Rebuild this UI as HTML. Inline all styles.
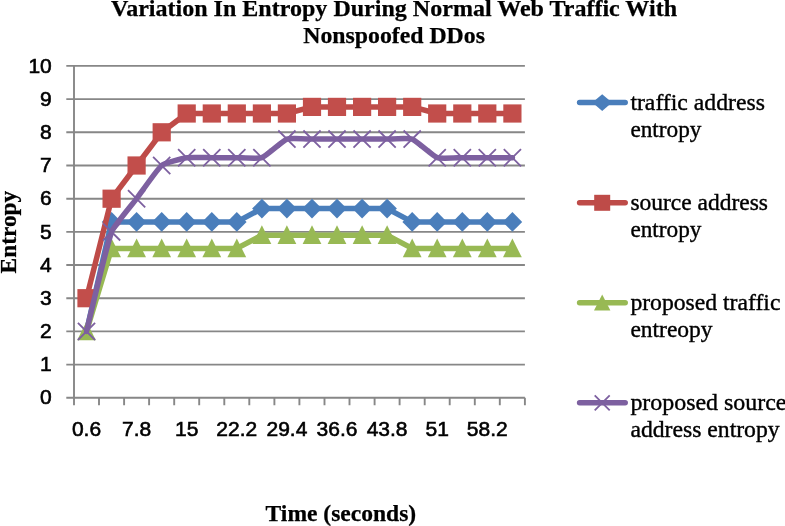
<!DOCTYPE html>
<html lang="en"><head><meta charset="utf-8"><title>Variation In Entropy During Normal Web Traffic With Nonspoofed DDos</title>
<style>html,body{margin:0;padding:0;background:#fff;overflow:hidden}svg{display:block}.t{font-family:"Liberation Serif","DejaVu Serif",serif;font-weight:bold;font-size:23.3px;fill:#000;stroke:#000;stroke-width:.25px}.l{font-family:"Liberation Serif","DejaVu Serif",serif;font-size:24px;fill:#000;stroke:#000;stroke-width:.4px}.a{font-family:"Liberation Sans","DejaVu Sans",sans-serif;font-size:21px;fill:#000;stroke:#000;stroke-width:.6px}</style></head><body>
<svg width="785" height="526" viewBox="0 0 785 526">
<rect width="785" height="526" fill="#fff"/>
<text class="t" x="111" y="16" textLength="566" lengthAdjust="spacingAndGlyphs">Variation In Entropy During Normal Web Traffic With</text>
<text class="t" x="303.3" y="43.0" textLength="181.6" lengthAdjust="spacingAndGlyphs">Nonspoofed DDos</text>
<path d="M66.3 397.8H524.9M66.3 364.6H524.9M66.3 331.4H524.9M66.3 298.2H524.9M66.3 265.0H524.9M66.3 231.9H524.9M66.3 198.7H524.9M66.3 165.5H524.9M66.3 132.3H524.9M66.3 99.1H524.9M66.3 65.9H524.9M74.0 65.9V397.8M74.0 397.8V405.2M99.0 397.8V405.2M124.1 397.8V405.2M149.1 397.8V405.2M174.2 397.8V405.2M199.2 397.8V405.2M224.3 397.8V405.2M249.3 397.8V405.2M274.4 397.8V405.2M299.4 397.8V405.2M324.5 397.8V405.2M349.5 397.8V405.2M374.6 397.8V405.2M399.6 397.8V405.2M424.7 397.8V405.2M449.7 397.8V405.2M474.8 397.8V405.2M499.8 397.8V405.2M524.9 397.8V405.2" stroke="#878787" stroke-width="1.9" fill="none"/>
<text class="a" x="51.8" y="404.4" text-anchor="end">0</text>
<text class="a" x="51.8" y="371.2" text-anchor="end">1</text>
<text class="a" x="51.8" y="338.0" text-anchor="end">2</text>
<text class="a" x="51.8" y="304.8" text-anchor="end">3</text>
<text class="a" x="51.8" y="271.6" text-anchor="end">4</text>
<text class="a" x="51.8" y="238.5" text-anchor="end">5</text>
<text class="a" x="51.8" y="205.3" text-anchor="end">6</text>
<text class="a" x="51.8" y="172.1" text-anchor="end">7</text>
<text class="a" x="51.8" y="138.9" text-anchor="end">8</text>
<text class="a" x="51.8" y="105.7" text-anchor="end">9</text>
<text class="a" x="51.8" y="72.5" text-anchor="end">10</text>
<text class="a" x="86.5" y="435.8" text-anchor="middle">0.6</text>
<text class="a" x="136.6" y="435.8" text-anchor="middle">7.8</text>
<text class="a" x="186.7" y="435.8" text-anchor="middle">15</text>
<text class="a" x="236.8" y="435.8" text-anchor="middle">22.2</text>
<text class="a" x="286.9" y="435.8" text-anchor="middle">29.4</text>
<text class="a" x="337.0" y="435.8" text-anchor="middle">36.6</text>
<text class="a" x="387.1" y="435.8" text-anchor="middle">43.8</text>
<text class="a" x="437.2" y="435.8" text-anchor="middle">51</text>
<text class="a" x="487.3" y="435.8" text-anchor="middle">58.2</text>
<text class="t" transform="translate(15.7 273.4) rotate(-90)" textLength="82.7" lengthAdjust="spacingAndGlyphs">Entropy</text>
<text class="t" x="265.6" y="521.3" textLength="150.6" lengthAdjust="spacingAndGlyphs">Time (seconds)</text>
<polyline points="86.5,331.4 111.6,221.9 136.6,221.9 161.7,221.9 186.7,221.9 211.8,221.9 236.8,221.9 261.9,208.6 286.9,208.6 312.0,208.6 337.0,208.6 362.1,208.6 387.1,208.6 412.2,221.9 437.2,221.9 462.3,221.9 487.3,221.9 512.4,221.9" fill="none" stroke="#4a7ebb" stroke-width="5.5" stroke-linejoin="round" stroke-linecap="round"/>
<path d="M111.6 212.1L121.4 221.9L111.6 231.7L101.8 221.9Z" fill="#4a7ebb"/>
<path d="M136.6 212.1L146.4 221.9L136.6 231.7L126.8 221.9Z" fill="#4a7ebb"/>
<path d="M161.7 212.1L171.5 221.9L161.7 231.7L151.9 221.9Z" fill="#4a7ebb"/>
<path d="M186.7 212.1L196.5 221.9L186.7 231.7L176.9 221.9Z" fill="#4a7ebb"/>
<path d="M211.8 212.1L221.6 221.9L211.8 231.7L202.0 221.9Z" fill="#4a7ebb"/>
<path d="M236.8 212.1L246.6 221.9L236.8 231.7L227.0 221.9Z" fill="#4a7ebb"/>
<path d="M261.9 198.8L271.7 208.6L261.9 218.4L252.1 208.6Z" fill="#4a7ebb"/>
<path d="M286.9 198.8L296.7 208.6L286.9 218.4L277.1 208.6Z" fill="#4a7ebb"/>
<path d="M312.0 198.8L321.8 208.6L312.0 218.4L302.2 208.6Z" fill="#4a7ebb"/>
<path d="M337.0 198.8L346.8 208.6L337.0 218.4L327.2 208.6Z" fill="#4a7ebb"/>
<path d="M362.1 198.8L371.9 208.6L362.1 218.4L352.3 208.6Z" fill="#4a7ebb"/>
<path d="M387.1 198.8L396.9 208.6L387.1 218.4L377.3 208.6Z" fill="#4a7ebb"/>
<path d="M412.2 212.1L422.0 221.9L412.2 231.7L402.4 221.9Z" fill="#4a7ebb"/>
<path d="M437.2 212.1L447.0 221.9L437.2 231.7L427.4 221.9Z" fill="#4a7ebb"/>
<path d="M462.3 212.1L472.1 221.9L462.3 231.7L452.5 221.9Z" fill="#4a7ebb"/>
<path d="M487.3 212.1L497.1 221.9L487.3 231.7L477.5 221.9Z" fill="#4a7ebb"/>
<path d="M512.4 212.1L522.2 221.9L512.4 231.7L502.6 221.9Z" fill="#4a7ebb"/>
<polyline points="86.5,298.2 111.6,198.7 136.6,165.5 161.7,132.3 186.7,113.5 211.8,113.5 236.8,113.5 261.9,113.5 286.9,113.5 312.0,106.9 337.0,106.9 362.1,106.9 387.1,106.9 412.2,106.9 437.2,113.5 462.3,113.5 487.3,113.5 512.4,113.5" fill="none" stroke="#be4b48" stroke-width="5.5" stroke-linejoin="round" stroke-linecap="round"/>
<rect x="77.4" y="289.1" width="18.2" height="18.2" fill="#c24e4b"/>
<rect x="102.5" y="189.6" width="18.2" height="18.2" fill="#c24e4b"/>
<rect x="127.5" y="156.4" width="18.2" height="18.2" fill="#c24e4b"/>
<rect x="152.6" y="123.2" width="18.2" height="18.2" fill="#c24e4b"/>
<rect x="177.6" y="104.4" width="18.2" height="18.2" fill="#c24e4b"/>
<rect x="202.7" y="104.4" width="18.2" height="18.2" fill="#c24e4b"/>
<rect x="227.7" y="104.4" width="18.2" height="18.2" fill="#c24e4b"/>
<rect x="252.8" y="104.4" width="18.2" height="18.2" fill="#c24e4b"/>
<rect x="277.8" y="104.4" width="18.2" height="18.2" fill="#c24e4b"/>
<rect x="302.9" y="97.8" width="18.2" height="18.2" fill="#c24e4b"/>
<rect x="327.9" y="97.8" width="18.2" height="18.2" fill="#c24e4b"/>
<rect x="353.0" y="97.8" width="18.2" height="18.2" fill="#c24e4b"/>
<rect x="378.0" y="97.8" width="18.2" height="18.2" fill="#c24e4b"/>
<rect x="403.1" y="97.8" width="18.2" height="18.2" fill="#c24e4b"/>
<rect x="428.1" y="104.4" width="18.2" height="18.2" fill="#c24e4b"/>
<rect x="453.2" y="104.4" width="18.2" height="18.2" fill="#c24e4b"/>
<rect x="478.2" y="104.4" width="18.2" height="18.2" fill="#c24e4b"/>
<rect x="503.3" y="104.4" width="18.2" height="18.2" fill="#c24e4b"/>
<polyline points="86.5,331.4 111.6,248.4 136.6,248.4 161.7,248.4 186.7,248.4 211.8,248.4 236.8,248.4 261.9,235.2 286.9,235.2 312.0,235.2 337.0,235.2 362.1,235.2 387.1,235.2 412.2,248.4 437.2,248.4 462.3,248.4 487.3,248.4 512.4,248.4" fill="none" stroke="#98b954" stroke-width="5.5" stroke-linejoin="round" stroke-linecap="round"/>
<path d="M86.5 321.5L95.9 340.3L77.1 340.3Z" fill="#98b954"/>
<path d="M111.6 238.5L121.0 257.3L102.2 257.3Z" fill="#98b954"/>
<path d="M136.6 238.5L146.0 257.3L127.2 257.3Z" fill="#98b954"/>
<path d="M161.7 238.5L171.1 257.3L152.3 257.3Z" fill="#98b954"/>
<path d="M186.7 238.5L196.1 257.3L177.3 257.3Z" fill="#98b954"/>
<path d="M211.8 238.5L221.2 257.3L202.4 257.3Z" fill="#98b954"/>
<path d="M236.8 238.5L246.2 257.3L227.4 257.3Z" fill="#98b954"/>
<path d="M261.9 225.3L271.3 244.1L252.5 244.1Z" fill="#98b954"/>
<path d="M286.9 225.3L296.3 244.1L277.5 244.1Z" fill="#98b954"/>
<path d="M312.0 225.3L321.4 244.1L302.6 244.1Z" fill="#98b954"/>
<path d="M337.0 225.3L346.4 244.1L327.6 244.1Z" fill="#98b954"/>
<path d="M362.1 225.3L371.5 244.1L352.7 244.1Z" fill="#98b954"/>
<path d="M387.1 225.3L396.5 244.1L377.7 244.1Z" fill="#98b954"/>
<path d="M412.2 238.5L421.6 257.3L402.8 257.3Z" fill="#98b954"/>
<path d="M437.2 238.5L446.6 257.3L427.8 257.3Z" fill="#98b954"/>
<path d="M462.3 238.5L471.7 257.3L452.9 257.3Z" fill="#98b954"/>
<path d="M487.3 238.5L496.7 257.3L477.9 257.3Z" fill="#98b954"/>
<path d="M512.4 238.5L521.8 257.3L503.0 257.3Z" fill="#98b954"/>
<path d="M86.5 331.4 C90.0 317.5 106.5 245.3 111.6 231.9 C113.6 226.4 133.1 203.3 136.6 198.7 C140.1 194.0 157.2 169.2 161.7 165.5 C164.5 163.1 183.1 158.2 186.7 157.7 C190.2 157.1 208.3 157.7 211.8 157.7 C215.3 157.7 233.3 157.7 236.8 157.7 C240.3 157.7 258.6 158.9 261.9 157.7 C266.0 156.2 282.8 140.6 286.9 139.1 C290.2 137.9 308.5 139.1 312.0 139.1 C315.5 139.1 333.5 139.1 337.0 139.1 C340.5 139.1 358.6 139.1 362.1 139.1 C365.6 139.1 383.6 139.1 387.1 139.1 C390.6 139.1 408.9 137.9 412.2 139.1 C416.3 140.6 433.1 156.2 437.2 157.7 C440.5 158.9 458.8 157.7 462.3 157.7 C465.8 157.7 483.8 157.7 487.3 157.7 C490.8 157.7 508.9 157.7 512.4 157.7" fill="none" stroke="#7d60a0" stroke-width="5.5" stroke-linejoin="round" stroke-linecap="round"/>
<path d="M77.9 322.8L95.1 340.0M77.9 340.0L95.1 322.8" stroke="#7d60a0" stroke-width="1.8" fill="none"/>
<path d="M103.0 223.3L120.2 240.5M103.0 240.5L120.2 223.3" stroke="#7d60a0" stroke-width="1.8" fill="none"/>
<path d="M128.0 190.1L145.2 207.3M128.0 207.3L145.2 190.1" stroke="#7d60a0" stroke-width="1.8" fill="none"/>
<path d="M153.1 156.9L170.3 174.1M153.1 174.1L170.3 156.9" stroke="#7d60a0" stroke-width="1.8" fill="none"/>
<path d="M178.1 149.1L195.3 166.3M178.1 166.3L195.3 149.1" stroke="#7d60a0" stroke-width="1.8" fill="none"/>
<path d="M203.2 149.1L220.4 166.3M203.2 166.3L220.4 149.1" stroke="#7d60a0" stroke-width="1.8" fill="none"/>
<path d="M228.2 149.1L245.4 166.3M228.2 166.3L245.4 149.1" stroke="#7d60a0" stroke-width="1.8" fill="none"/>
<path d="M253.3 149.1L270.5 166.3M253.3 166.3L270.5 149.1" stroke="#7d60a0" stroke-width="1.8" fill="none"/>
<path d="M278.3 130.5L295.5 147.7M278.3 147.7L295.5 130.5" stroke="#7d60a0" stroke-width="1.8" fill="none"/>
<path d="M303.4 130.5L320.6 147.7M303.4 147.7L320.6 130.5" stroke="#7d60a0" stroke-width="1.8" fill="none"/>
<path d="M328.4 130.5L345.6 147.7M328.4 147.7L345.6 130.5" stroke="#7d60a0" stroke-width="1.8" fill="none"/>
<path d="M353.5 130.5L370.7 147.7M353.5 147.7L370.7 130.5" stroke="#7d60a0" stroke-width="1.8" fill="none"/>
<path d="M378.5 130.5L395.7 147.7M378.5 147.7L395.7 130.5" stroke="#7d60a0" stroke-width="1.8" fill="none"/>
<path d="M403.6 130.5L420.8 147.7M403.6 147.7L420.8 130.5" stroke="#7d60a0" stroke-width="1.8" fill="none"/>
<path d="M428.6 149.1L445.8 166.3M428.6 166.3L445.8 149.1" stroke="#7d60a0" stroke-width="1.8" fill="none"/>
<path d="M453.7 149.1L470.9 166.3M453.7 166.3L470.9 149.1" stroke="#7d60a0" stroke-width="1.8" fill="none"/>
<path d="M478.7 149.1L495.9 166.3M478.7 166.3L495.9 149.1" stroke="#7d60a0" stroke-width="1.8" fill="none"/>
<path d="M503.8 149.1L521.0 166.3M503.8 166.3L521.0 149.1" stroke="#7d60a0" stroke-width="1.8" fill="none"/>
<path d="M579.6 102.6H625.2" stroke="#4a7ebb" stroke-width="5.5" stroke-linecap="round" fill="none"/>
<path d="M602.2 94.3L612.0 102.6L602.2 110.9L592.4 102.6Z" fill="#4a7ebb"/>
<path d="M579.6 202.8H625.2" stroke="#be4b48" stroke-width="5.5" stroke-linecap="round" fill="none"/>
<rect x="594.2" y="194.8" width="16.0" height="16.0" fill="#be4b48"/>
<path d="M579.6 302.8H625.2" stroke="#98b954" stroke-width="5.5" stroke-linecap="round" fill="none"/>
<path d="M602.2 294.6L610.4 310.6L594.0 310.6Z" fill="#98b954"/>
<path d="M579.6 402.8H625.2" stroke="#7d60a0" stroke-width="5.5" stroke-linecap="round" fill="none"/>
<path d="M594.7 395.3L609.7 410.3M594.7 410.3L609.7 395.3" stroke="#7d60a0" stroke-width="1.8" fill="none"/>
<text class="l" x="630.4" y="110.2" textLength="134.5" lengthAdjust="spacingAndGlyphs">traffic address</text>
<text class="l" x="630.4" y="137.3" textLength="71.0" lengthAdjust="spacingAndGlyphs">entropy</text>
<text class="l" x="630.4" y="210.3" textLength="137.6" lengthAdjust="spacingAndGlyphs">source address</text>
<text class="l" x="630.4" y="237.3" textLength="71.0" lengthAdjust="spacingAndGlyphs">entropy</text>
<text class="l" x="630.4" y="310.3" textLength="150.0" lengthAdjust="spacingAndGlyphs">proposed traffic</text>
<text class="l" x="630.4" y="337.3" textLength="82.2" lengthAdjust="spacingAndGlyphs">entreopy</text>
<text class="l" x="630.4" y="410.3" textLength="156.0" lengthAdjust="spacingAndGlyphs">proposed source</text>
<text class="l" x="630.4" y="437.3" textLength="149.2" lengthAdjust="spacingAndGlyphs">address entropy</text>
</svg></body></html>
